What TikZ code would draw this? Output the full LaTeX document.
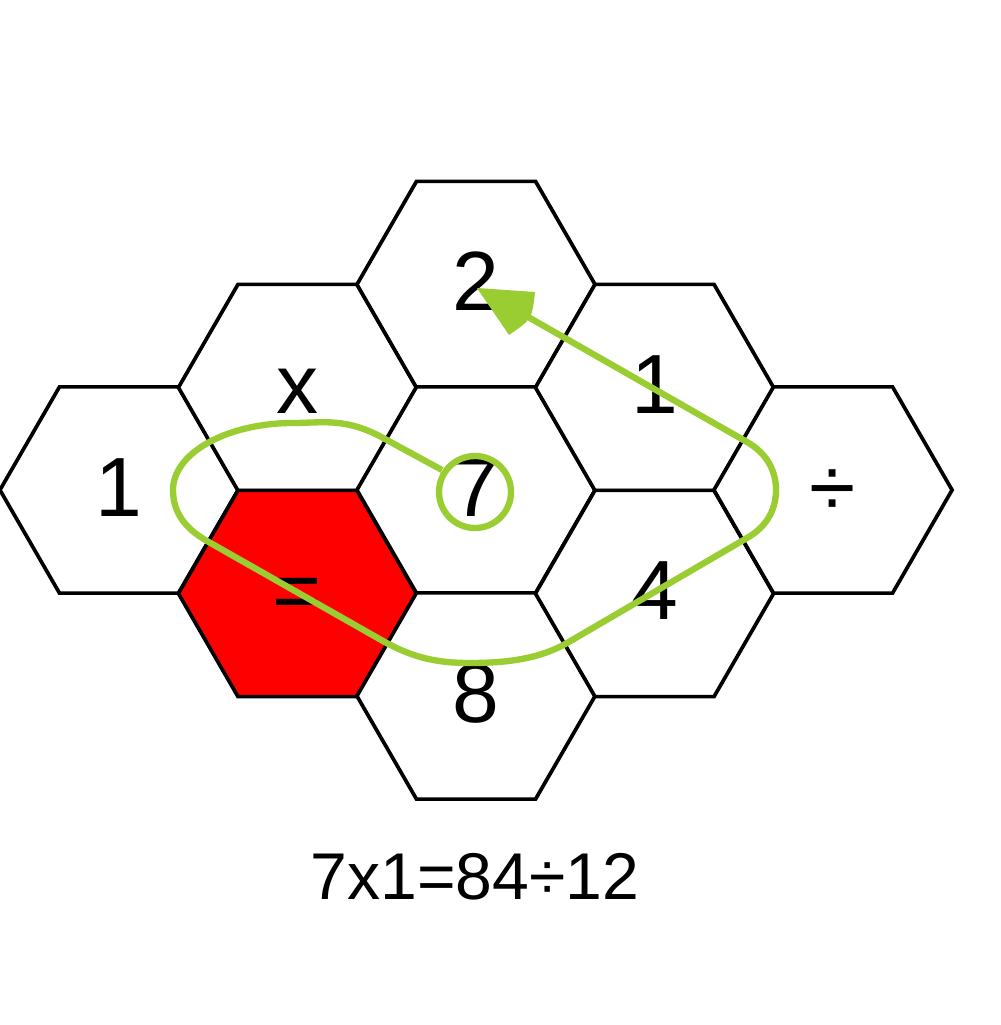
\documentclass[tikz,border=0pt]{standalone}
\usepackage{fontspec}
\setmainfont{Liberation Sans}
\usetikzlibrary{shapes.geometric}
\definecolor{leaf}{HTML}{9ACD32}
\definecolor{hexred}{HTML}{FF0000}
\tikzset{
  hexcell/.style={regular polygon, regular polygon sides=6, minimum size=2.38cm,
    inner sep=0pt, outer sep=0pt, draw=black, line width=1.05pt, fill=white,
    text height=0.52cm, text depth=0pt,
    font=\fontsize{23.9}{28}\selectfont},
  redcell/.style={hexcell, fill=hexred},
  trail/.style={draw=leaf, line width=1.8pt, line join=round},
  caption/.style={font=\fontsize{18.8}{22}\selectfont, inner sep=0pt}
}
\begin{document}
\begin{tikzpicture}[x=0.01cm, y=-0.01cm]
\useasboundingbox[fill=white] (0,0) rectangle (1000,1025);
% hex grid
\node[hexcell] (one)    at (119,490)   {1};
\node[hexcell] (times)  at (297.5,387.5) {x};
\node[redcell] (equals) at (297.5,593.5) {=};
\node[hexcell] (two)    at (476,284.5) {2};
\node[hexcell] (seven)  at (476,490)   {7};
\node[hexcell] (eight)  at (476,696)   {8};
\node[hexcell] (oneb)   at (654.5,387.5) {1};
\node[hexcell] (four)   at (654.5,593.5) {4};
\node[hexcell] (divide) at (833,490)   {÷};
% caption
\node[caption] (eq) at (475,877) {7x1=84÷12};
% green trail
\coordinate (start) at (442,470);
\coordinate (tipbase) at (522,313.5);
\draw[trail] (475,492) circle[radius=36];
\draw[trail] (start) -- (385,439)
  .. controls (346,417) and (323,423) .. (293,423)
  .. controls (227,423) and (173,453) .. (173,490)
  .. controls (173,515) and (188,530) .. (207,541)
  -- (383,641)
  .. controls (415,659) and (440,663) .. (470,663)
  .. controls (510,663) and (541,658) .. (567,643)
  -- (747,538)
  .. controls (768,526) and (776,508) .. (776,490)
  .. controls (776,472) and (768,454) .. (747,442)
  -- (tipbase);
\fill[leaf] (477,288) -- (535,292) .. controls (532,319) .. (509,335) -- cycle;
\end{tikzpicture}
\end{document}
